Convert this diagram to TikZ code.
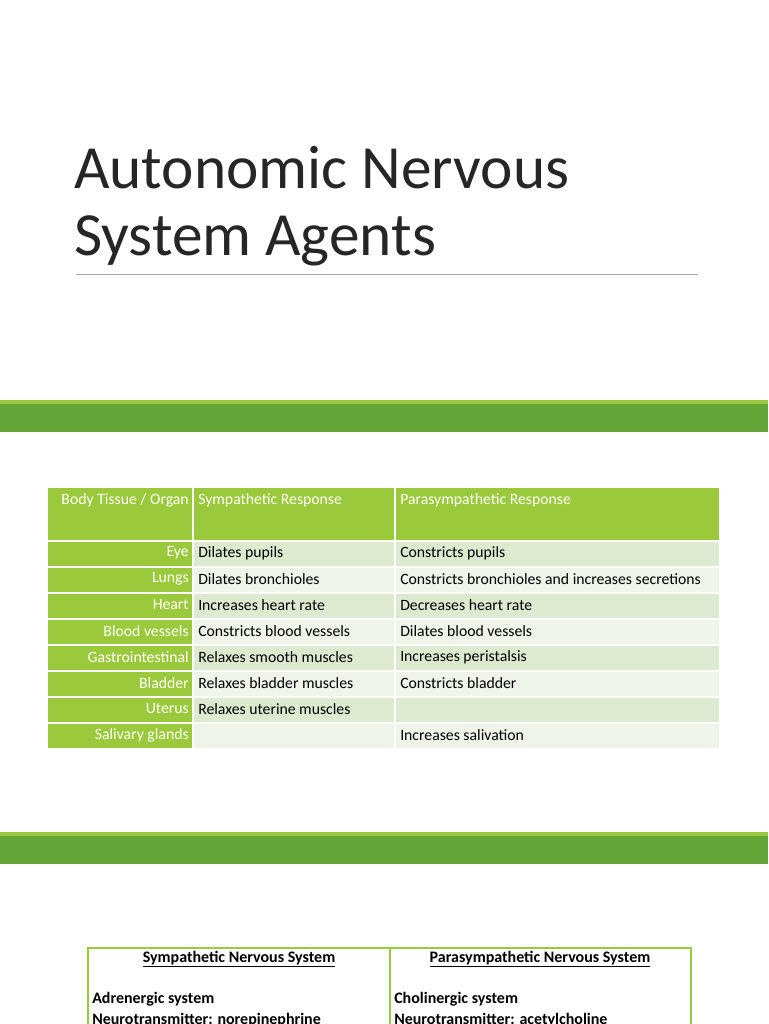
\documentclass[tikz,border=0pt]{standalone}
\usepackage{fontspec}
\setmainfont{Carlito}
\definecolor{hdr}{HTML}{9ACA3C}
\definecolor{rowA}{HTML}{DEEAD0}
\definecolor{rowB}{HTML}{EFF4EA}
\definecolor{barD}{HTML}{64A637}
\definecolor{barL}{HTML}{9ACA3C}
\begin{document}
\begin{tikzpicture}[x=0.75pt,y=-0.75pt,
  cell/.style={anchor=west,inner sep=0pt,font=\fontsize{11.8}{13}\selectfont},
  org/.style={anchor=east,inner sep=0pt,font=\fontsize{11.8}{13}\selectfont,text=white},
  bt/.style={inner sep=0pt,font=\bfseries\fontsize{12}{13}\selectfont}]
\useasboundingbox (0,0) rectangle (768,1024);
\fill[white] (0,0) rectangle (768,1024);
\node[anchor=base west,inner sep=0pt,font=\fontsize{46}{50}\selectfont,text=black!85] (t1) at (74,188) {Autonomic Nervous};
\node[anchor=base west,inner sep=0pt,font=\fontsize{46}{50}\selectfont,text=black!85] (t2) at (74,255) {System Agents};
\draw[gray!70,line width=0.6pt] (76,274) -- (698,274);
% bars
\fill[barL] (0,400) rectangle (768,404);
\fill[barD] (0,404) rectangle (768,432);
\fill[barL] (0,832) rectangle (768,836);
\fill[barD] (0,836) rectangle (768,864);
% table header
\fill[hdr] (48,488) rectangle (192,540);
\fill[hdr] (194,488) rectangle (394,540);
\fill[hdr] (396,488) rectangle (719,540);
\node[org] (h1) at (189,500) {Body Tissue / Organ};
\node[cell,text=white] (h2) at (198,500) {Sympathetic Response};
\node[cell,text=white] (h3) at (400,500) {Parasympathetic Response};
\foreach \i/\o/\s/\p in {0/Eye/Dilates pupils/Constricts pupils,
 1/Lungs/Dilates bronchioles/Constricts bronchioles and increases secretions,
 2/Heart/Increases heart rate/Decreases heart rate,
 3/Blood vessels/Constricts blood vessels/Dilates blood vessels,
 4/Gastrointestinal/Relaxes smooth muscles/Increases peristalsis,
 5/Bladder/Relaxes bladder muscles/Constricts bladder,
 6/Uterus/Relaxes uterine muscles/,
 7/Salivary glands//Increases salivation}{
  \pgfmathsetmacro{\yt}{542+26*\i}
  \pgfmathsetmacro{\yb}{\yt+24}
  \pgfmathsetmacro{\ym}{\yt+11}
  \pgfmathparse{mod(\i,2)==0?1:0}
  \ifnum\pgfmathresult=1 \def\rc{rowA}\else\def\rc{rowB}\fi
  \fill[hdr] (48,\yt) rectangle (192,\yb);
  \fill[\rc] (194,\yt) rectangle (394,\yb);
  \fill[\rc] (396,\yt) rectangle (719,\yb);
  \node[org] (o\i) at (189,\ym) {\o};
  \node[cell] (s\i) at (198,\ym) {\s};
  \node[cell] (p\i) at (400,\ym) {\p};
}
% bottom table
\draw[barL,line width=0.8pt] (88,1030) -- (88,948) -- (691,948) -- (691,1030);
\draw[barL,line width=0.8pt] (390,948) -- (390,1030);
\node[bt] (b1) at (239,959) {\underline{Sympathetic Nervous System}};
\node[bt] (b2) at (540,959) {\underline{Parasympathetic Nervous System}};
\node[bt,anchor=west] (b3) at (92,999) {Adrenergic system};
\node[bt,anchor=west] (b4) at (394,999) {Cholinergic system};
\node[bt,anchor=west] (b5) at (92,1020) {Neurotransmitter: norepinephrine};
\node[bt,anchor=west] (b6) at (394,1020) {Neurotransmitter: acetylcholine};
\end{tikzpicture}
\end{document}
